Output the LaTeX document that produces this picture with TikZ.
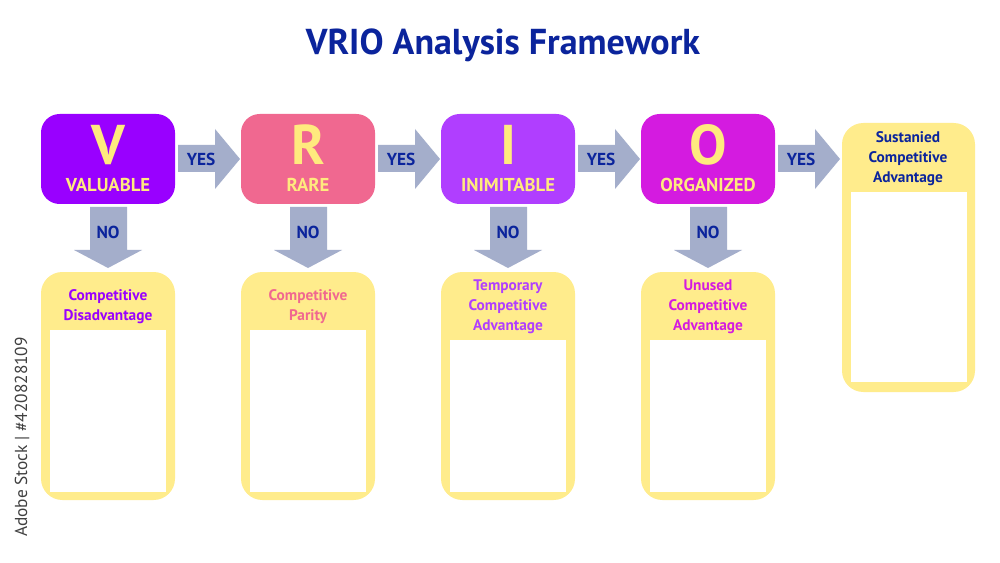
\documentclass[tikz,border=0pt]{standalone}
\usepackage{fontspec}
\setmainfont{PT Sans}
\definecolor{navy}{HTML}{0B249C}
\definecolor{cV}{HTML}{9900FF}
\definecolor{cR}{HTML}{F06890}
\definecolor{cI}{HTML}{B03EFF}
\definecolor{cO}{HTML}{D41BE0}
\definecolor{ylw}{HTML}{FFEC8C}
\definecolor{ytxt}{HTML}{FFEA7E}
\definecolor{arr}{HTML}{A4AECB}
\begin{document}
\begin{tikzpicture}[x=0.75pt,y=-0.75pt,
  topbox/.style={rounded corners=14pt},
  big/.style={font=\fontsize{42}{42}\selectfont\bfseries,text=ytxt,inner sep=0pt},
  sub/.style={font=\fontsize{14}{14}\selectfont\bfseries,text=ytxt,inner sep=0pt},
  lbl/.style={font=\fontsize{13}{13}\selectfont\bfseries,text=navy},
  res/.style={font=\fontsize{11.5}{15}\selectfont\bfseries,align=center},
  ybox/.style={fill=ylw,rounded corners=16pt}]
\useasboundingbox (0,0) rectangle (1000,563);
\fill[white] (0,0) rectangle (1000,563);
\node[font=\fontsize{27}{28}\selectfont\bfseries,text=navy] (title) at (503,45) {VRIO Analysis Framework};
\node[rotate=90,font=\fontsize{13}{13}\selectfont,text=black!75] (wm) at (22,437) {Adobe Stock | \#420828109};
\foreach \n/\x/\c/\L/\S in {v/41/cV/V/VALUABLE,r/241/cR/R/RARE,i/441/cI/I/INIMITABLE,o/641/cO/O/ORGANIZED}{
  \fill[\c,topbox] (\x,114) rectangle ++(134,90);
  \node[big] (\n L) at (\x+67,145) {\L};
  \node[sub] (\n S) at (\x+67,185) {\S};
  \fill[arr] (\x+49,207) -- (\x+86,207) -- (\x+86,250) -- (\x+101,250) -- (\x+67,268) -- (\x+33,250) -- (\x+49,250) -- cycle;
  \node[lbl] (\n no) at (\x+67,232) {NO};
  \fill[arr] (\x+137,145) -- (\x+174,145) -- (\x+174,129) -- (\x+199,159) -- (\x+174,189) -- (\x+174,172) -- (\x+137,172) -- cycle;
  \node[lbl] (\n yes) at (\x+160,159) {YES};
  \fill[ybox] (\x,272) rectangle ++(134,228);
}
\fill[white] (50,330) rectangle (166,492);
\fill[white] (250,330) rectangle (366,492);
\fill[white] (450,340) rectangle (566,492);
\fill[white] (650,340) rectangle (766,492);
\node[res,text=cV] (t1) at (108,307) {Competitive\\Disadvantage};
\node[res,text=cR] (t2) at (308,307) {Competitive\\Parity};
\node[res,text=cI] (t3) at (508,307) {Temporary\\Competitive\\Advantage};
\node[res,text=cO] (t4) at (708,307) {Unused\\Competitive\\Advantage};
\fill[ybox] (842,123) rectangle (975,392);
\fill[white] (851,192) rectangle (967,382);
\node[res,text=navy] (t5) at (908,159) {Sustanied\\Competitive\\Advantage};
\end{tikzpicture}
\end{document}
